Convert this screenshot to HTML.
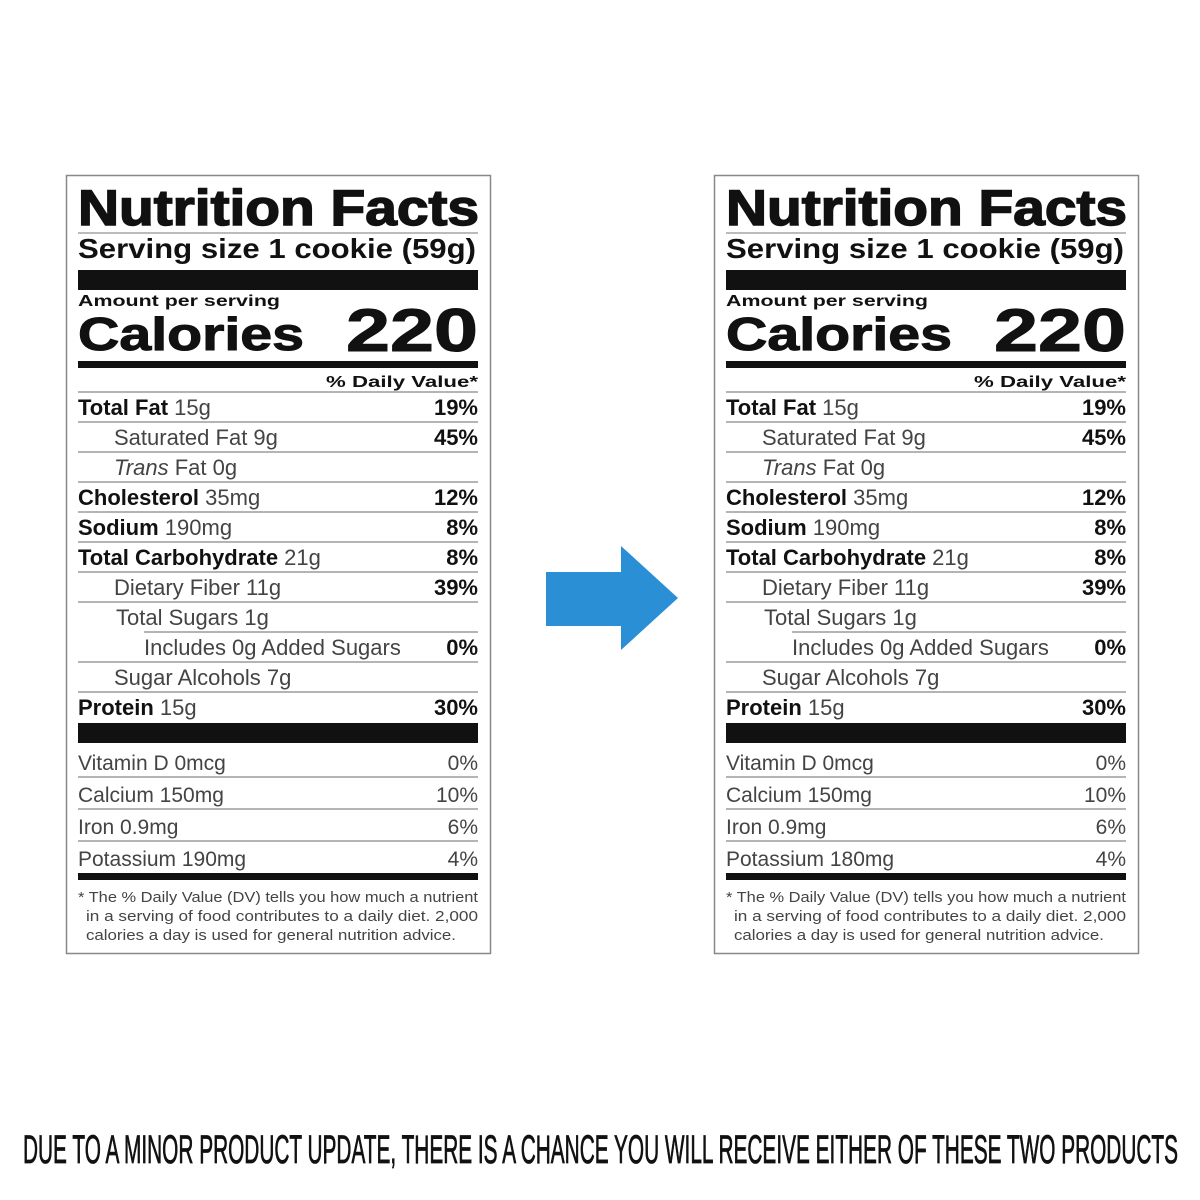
<!DOCTYPE html>
<html><head><meta charset="utf-8"><style>html,body{margin:0;padding:0;background:#fff}svg{display:block}text{font-family:"Liberation Sans",sans-serif}</style></head>
<body>
<svg width="1200" height="1200" viewBox="0 0 1200 1200" xmlns="http://www.w3.org/2000/svg">
<defs>
<g id="lab">
<rect x="66.5" y="175.5" width="424" height="778" fill="#fff" stroke="#888" stroke-width="1.5"/>
<text x="78" y="225" font-size="50" font-weight="bold" fill="#111" stroke="#111" stroke-width="1.5" textLength="401" lengthAdjust="spacingAndGlyphs">Nutrition Facts</text>
<line x1="78" y1="233" x2="478" y2="233" stroke="#777" stroke-width="1"/>
<text x="78" y="258" font-size="28" font-weight="bold" fill="#111" textLength="398" lengthAdjust="spacingAndGlyphs">Serving size 1 cookie (59g)</text>
<rect x="78" y="270" width="400" height="20" fill="#111"/>
<text x="78" y="306" font-size="16" font-weight="bold" fill="#111" textLength="202" lengthAdjust="spacingAndGlyphs">Amount per serving</text>
<text x="78" y="350" font-size="46" font-weight="bold" fill="#111" stroke="#111" stroke-width="1" textLength="226" lengthAdjust="spacingAndGlyphs">Calories</text>
<text x="478" y="351" font-size="60" font-weight="bold" fill="#111" stroke="#111" stroke-width="1" text-anchor="end" textLength="132" lengthAdjust="spacingAndGlyphs">220</text>
<rect x="78" y="361" width="400" height="7" fill="#111"/>
<text x="478" y="387" font-size="16" font-weight="bold" fill="#111" text-anchor="end" textLength="152" lengthAdjust="spacingAndGlyphs">% Daily Value*</text>
<g stroke="#888" stroke-width="1.2">
<line x1="78" y1="392" x2="478" y2="392"/><line x1="78" y1="422" x2="478" y2="422"/><line x1="78" y1="452" x2="478" y2="452"/><line x1="78" y1="482" x2="478" y2="482"/><line x1="78" y1="512" x2="478" y2="512"/><line x1="78" y1="542" x2="478" y2="542"/><line x1="78" y1="572" x2="478" y2="572"/><line x1="78" y1="602" x2="478" y2="602"/><line x1="144" y1="632" x2="478" y2="632"/><line x1="78" y1="662" x2="478" y2="662"/><line x1="78" y1="692" x2="478" y2="692"/>
<line x1="78" y1="777" x2="478" y2="777"/><line x1="78" y1="809" x2="478" y2="809"/><line x1="78" y1="841" x2="478" y2="841"/>
</g>
<g font-size="22" fill="#111">
<text x="78" y="415"><tspan font-weight="bold">Total Fat</tspan><tspan fill="#444"> 15g</tspan></text>
<text x="114" y="445" fill="#444">Saturated Fat 9g</text>
<text x="114" y="475" fill="#444"><tspan font-style="italic">Trans</tspan> Fat 0g</text>
<text x="78" y="505"><tspan font-weight="bold">Cholesterol</tspan><tspan fill="#444"> 35mg</tspan></text>
<text x="78" y="535"><tspan font-weight="bold">Sodium</tspan><tspan fill="#444"> 190mg</tspan></text>
<text x="78" y="565"><tspan font-weight="bold">Total Carbohydrate</tspan><tspan fill="#444"> 21g</tspan></text>
<text x="114" y="595" fill="#444">Dietary Fiber 11g</text>
<text x="116" y="625" fill="#444">Total Sugars 1g</text>
<text x="144" y="655" fill="#444">Includes 0g Added Sugars</text>
<text x="114" y="685" fill="#444">Sugar Alcohols 7g</text>
<text x="78" y="715"><tspan font-weight="bold">Protein</tspan><tspan fill="#444"> 15g</tspan></text>
<g font-weight="bold" text-anchor="end">
<text x="478" y="415">19%</text><text x="478" y="445">45%</text><text x="478" y="505">12%</text><text x="478" y="535">8%</text><text x="478" y="565">8%</text><text x="478" y="595">39%</text><text x="478" y="655">0%</text><text x="478" y="715">30%</text>
</g>
</g>
<rect x="78" y="723" width="400" height="20" fill="#111"/>
<g font-size="21" fill="#444">
<text x="78" y="770">Vitamin D 0mcg</text>
<text x="78" y="802">Calcium 150mg</text>
<text x="78" y="834">Iron 0.9mg</text>
<g text-anchor="end"><text x="478" y="770">0%</text><text x="478" y="802">10%</text><text x="478" y="834">6%</text><text x="478" y="866">4%</text></g>
</g>
<rect x="78" y="873" width="400" height="7" fill="#111"/>
<g font-size="15" fill="#444">
<text x="78" y="902" textLength="400" lengthAdjust="spacingAndGlyphs">* The % Daily Value (DV) tells you how much a nutrient</text>
<text x="86" y="921" textLength="392" lengthAdjust="spacingAndGlyphs">in a serving of food contributes to a daily diet. 2,000</text>
<text x="86" y="940" textLength="370" lengthAdjust="spacingAndGlyphs">calories a day is used for general nutrition advice.</text>
</g>
</g>
</defs>
<use href="#lab"/>
<text x="78" y="866" font-size="21" fill="#444">Potassium 190mg</text>
<use href="#lab" transform="translate(648,0)"/>
<text x="726" y="866" font-size="21" fill="#444">Potassium 180mg</text>
<polygon points="546,572 621,572 621,546 678,598 621,650 621,626 546,626" fill="#2b8fd6"/>
<text x="23" y="1163" font-size="40" fill="#111" stroke="#111" stroke-width="0.8" textLength="1155" lengthAdjust="spacingAndGlyphs">DUE TO A MINOR PRODUCT UPDATE, THERE IS A CHANCE YOU WILL RECEIVE EITHER OF THESE TWO PRODUCTS</text>
</svg>
</body></html>
